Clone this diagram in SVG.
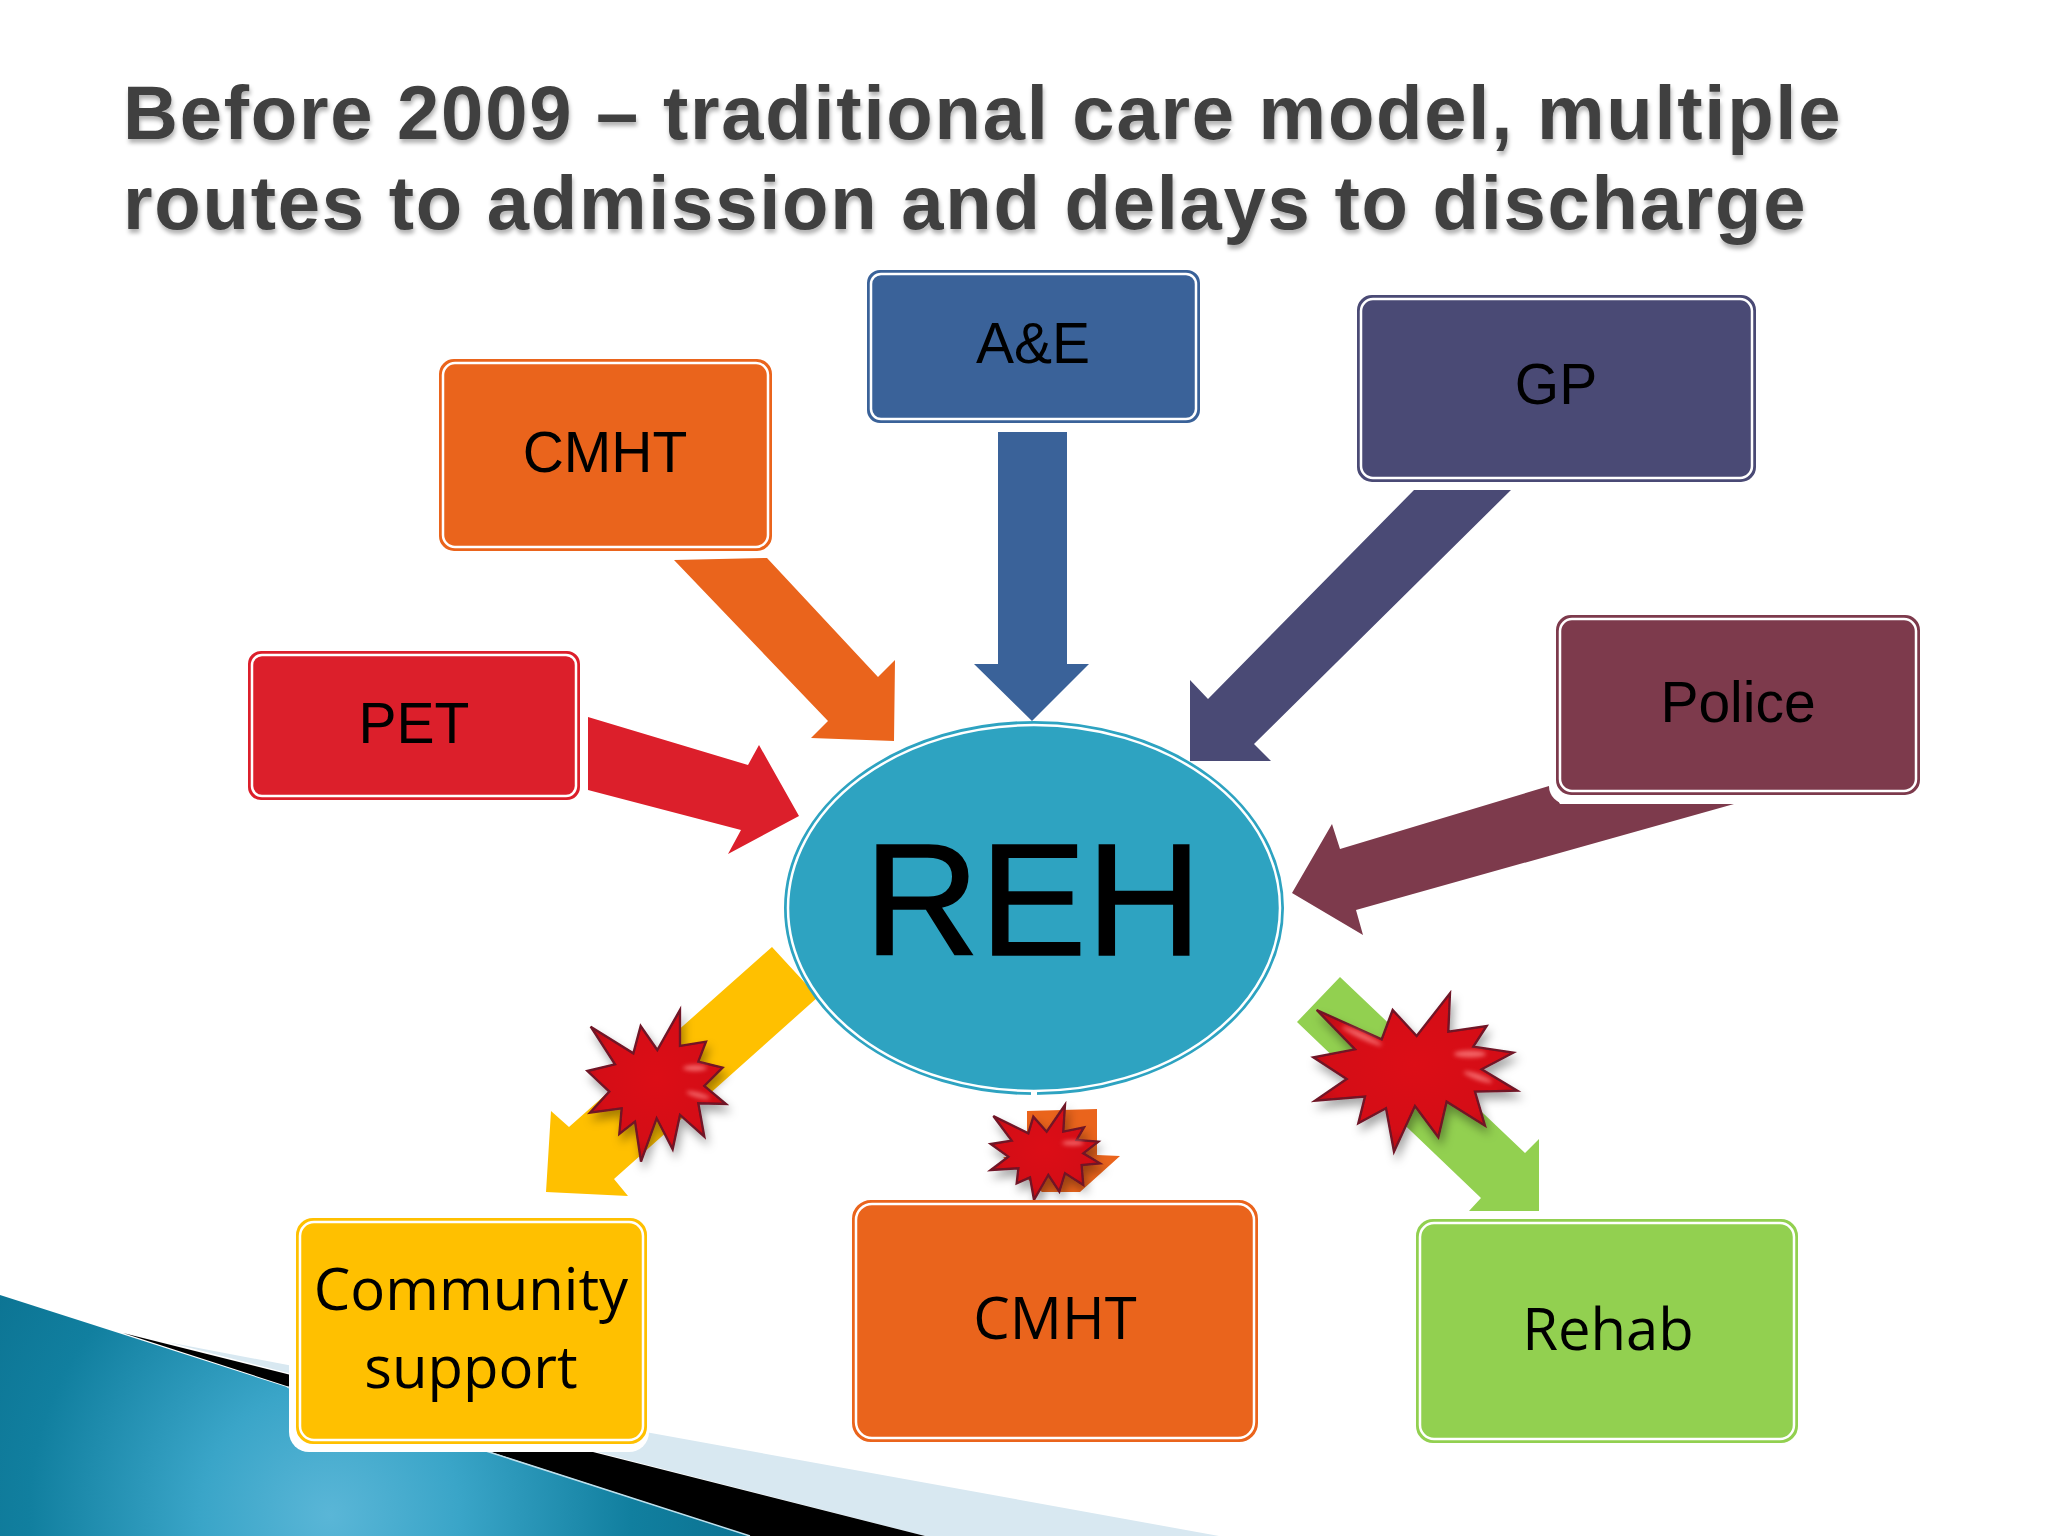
<svg xmlns="http://www.w3.org/2000/svg" width="2048" height="1536" viewBox="0 0 2048 1536">
<defs>
<radialGradient id="teal" gradientUnits="userSpaceOnUse" cx="330" cy="1515" r="430">
<stop offset="0" stop-color="#5ab6d7"/><stop offset=".3" stop-color="#3aa5c8"/><stop offset=".7" stop-color="#117f9f"/><stop offset="1" stop-color="#0b7190"/>
</radialGradient>
<radialGradient id="starFill" cx=".5" cy=".45" r=".6"><stop offset="0" stop-color="#dc0a14"/><stop offset=".7" stop-color="#d40a14"/><stop offset="1" stop-color="#a80a18"/></radialGradient>
<filter id="sh" x="-30%" y="-30%" width="170%" height="170%"><feDropShadow dx="9" dy="20" stdDeviation="14" flood-color="#000" flood-opacity=".35"/></filter>
<filter id="tsh" x="-5%" y="-20%" width="110%" height="150%"><feGaussianBlur in="SourceGraphic" stdDeviation=".6" result="b"/><feDropShadow in="b" dx="1" dy="4" stdDeviation="2" flood-color="#000" flood-opacity=".3"/></filter>
<filter id="soft" x="-50%" y="-100%" width="200%" height="300%"><feGaussianBlur stdDeviation="2"/></filter>
</defs>
<style>
.t{font-family:"Liberation Sans",Arial,sans-serif;fill:#000;text-anchor:middle}
.l{font-size:57px}
.d{font-family:"Open Sans","Noto Sans",sans-serif;font-size:58px;fill:#000;text-anchor:middle}
.ttl{font-family:"Liberation Sans",Arial,sans-serif;font-weight:700;font-size:76px;letter-spacing:1.75px;fill:#404040;filter:url(#tsh)}
.in{fill:none;stroke:#fff;stroke-width:2.5}
.star{fill:url(#starFill);stroke:#701426;stroke-width:7;stroke-linejoin:miter;filter:url(#sh)}
.hl{fill:#ff8a8a;opacity:.7;filter:url(#soft)}
</style>
<rect width="2048" height="1536" fill="#fff"/>
<g id="background">
<polygon points="167,1342 288,1365 651,1433 1219,1536 925,1536" fill="#d8e8f1"/>
<polygon points="123,1333 287,1374 593,1452 925,1536 750,1536" fill="#000"/>
<polygon points="0,1295 287,1387 750,1536 0,1536" fill="url(#teal)"/>
<polyline points="287,1387 489,1452 750,1536" fill="none" stroke="#bfe0ec" stroke-width="1.5"/>
</g>
<text class="ttl"><tspan x="123" y="139">Before 2009 – traditional care model, multiple</tspan><tspan x="123" y="229">routes to admission and delays to discharge</tspan></text>
<g id="connectors">
<polygon fill="#dc1f2b" points="588,717 748,765 759,745 799,816 728,854 741,830 588,790"/>
<polygon fill="#ea641c" points="674,560 767,558 878,677 895,660 894,741 811,738 828,721"/>
<polygon fill="#3a6299" points="998,432 1067,432 1067,664 1089,664 1032,721 974,664 998,664"/>
<polygon fill="#4a4a75" points="1414,490 1511,490 1254,744 1271,761 1190,761 1190,680 1208,699"/>
<polygon fill="#7d3a4c" points="1549,786 1340,849 1332,824 1292,893 1363,935 1356,910 1734,804 1560,804"/>
<polygon fill="#ffc000" points="772,947 818,997 614,1179 628,1196 546,1192 551,1111 569,1127"/>
<polygon fill="#92d050" points="1340,977 1297,1022 1481,1198 1469,1211 1539,1211 1539,1139 1525,1153"/>
<polygon fill="#ea641c" points="1027,1111 1097,1109 1097,1155 1120,1156 1080,1192 1042,1192 1003,1157 1027,1157"/>
</g>
<g id="bursts">
<polygon class="star" transform="translate(570 1000) scale(.3333)" points="330,30 330,138 408,125 385,185 458,203 403,258 468,312 385,310 403,410 330,345 308,448 260,355 213,485 195,365 148,402 155,325 60,338 118,275 52,213 135,193 62,80 190,160 212,78 262,150"/>
<ellipse class="hl" cx="695" cy="1068" rx="12" ry="3"/>
<ellipse class="hl" cx="698" cy="1095" rx="12" ry="2.5" transform="rotate(15 698 1095)"/>
<polygon class="star" transform="translate(1300 980) scale(.3333)" points="450,40 445,155 560,138 520,200 640,218 545,268 652,332 525,335 555,437 440,365 415,472 345,378 282,515 258,385 175,430 195,350 45,362 140,297 40,232 165,208 50,90 245,178 278,90 350,168"/>
<ellipse class="hl" cx="1470" cy="1054" rx="16" ry="3.5"/>
<ellipse class="hl" cx="1478" cy="1077" rx="15" ry="3" transform="rotate(20 1478 1077)"/>
<ellipse class="hl" cx="1362" cy="1036" rx="22" ry="3" transform="rotate(25 1362 1036)"/>
<polygon class="star" transform="translate(980 1090) scale(.3333)" points="255,45 250,125 312,112 290,150 355,155 310,190 360,220 305,225 310,285 255,250 238,305 205,255 162,330 150,262 110,280 115,235 32,240 85,200 32,162 95,152 40,78 145,130 160,80 200,125"/>
<ellipse class="hl" cx="1073" cy="1143" rx="11" ry="2.5"/>
</g>
<g id="reh">
<ellipse cx="1034" cy="908" rx="249" ry="186" fill="#2ea3c1" stroke="#2ea3c1" stroke-width="2"/>
<ellipse cx="1034" cy="908" rx="246" ry="183" class="in"/>
<rect x="1031" y="1091" width="6" height="5" fill="#fff"/>
<text class="t" x="1033" y="955" font-size="160" stroke="#000" stroke-width="1.5">REH</text>
</g>
<g id="pet">
<rect x="249" y="652" width="330" height="147" rx="12" fill="#dc1f2b" stroke="#dc1f2b" stroke-width="2"/>
<rect x="252" y="655" width="324" height="141" rx="10" class="in"/>
<text class="t l" x="414" y="743">PET</text>
</g>
<g id="cmht-top">
<rect x="440" y="360" width="331" height="190" rx="14" fill="#ea641c" stroke="#ea641c" stroke-width="2"/>
<rect x="443" y="363" width="325" height="184" rx="12" class="in"/>
<text class="t l" x="605" y="472">CMHT</text>
</g>
<g id="ae">
<rect x="868" y="271" width="331" height="151" rx="12" fill="#3a6299" stroke="#3a6299" stroke-width="2"/>
<rect x="871" y="274" width="325" height="145" rx="10" class="in"/>
<text class="t l" x="1033" y="363">A&amp;E</text>
</g>
<g id="gp">
<rect x="1358" y="296" width="397" height="185" rx="14" fill="#4a4a75" stroke="#4a4a75" stroke-width="2"/>
<rect x="1361" y="299" width="391" height="179" rx="12" class="in"/>
<text class="t l" x="1556" y="404">GP</text>
</g>
<g id="police">
<rect x="1549" y="610" width="378" height="194" rx="18" fill="#fff"/>
<rect x="1557" y="616" width="362" height="178" rx="14" fill="#7d3a4c" stroke="#7d3a4c" stroke-width="2"/>
<rect x="1560" y="619" width="356" height="172" rx="12" class="in"/>
<text class="t l" x="1738" y="722">Police</text>
</g>
<g id="community">
<rect x="289" y="1212" width="360" height="240" rx="20" fill="#fff"/>
<rect x="297" y="1219" width="349" height="224" rx="16" fill="#ffc000" stroke="#ffc000" stroke-width="2"/>
<rect x="300" y="1222" width="343" height="218" rx="14" class="in"/>
<text class="d" x="471" y="1310">Community</text>
<text class="d" x="471" y="1388">support</text>
</g>
<g id="cmht-bottom">
<rect x="853" y="1201" width="404" height="240" rx="18" fill="#ea641c" stroke="#ea641c" stroke-width="2"/>
<rect x="856" y="1204" width="398" height="234" rx="16" class="in"/>
<text class="d" x="1055" y="1339">CMHT</text>
</g>
<g id="rehab">
<rect x="1417" y="1220" width="380" height="222" rx="16" fill="#92d050" stroke="#92d050" stroke-width="2"/>
<rect x="1420" y="1223" width="374" height="216" rx="14" class="in"/>
<text class="d" x="1608" y="1350">Rehab</text>
</g>
</svg>
